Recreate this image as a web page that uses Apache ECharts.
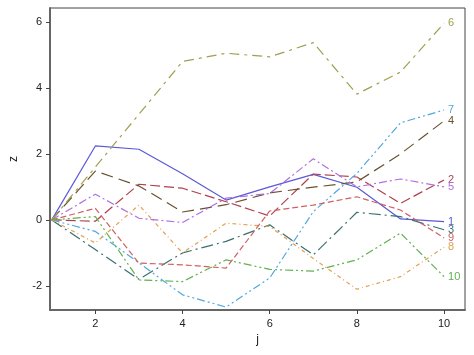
<!DOCTYPE html>
<html><head><meta charset="utf-8">
<script src="https://cdn.jsdelivr.net/npm/echarts@6/dist/echarts.min.js"></script>
<style>html,body{margin:0;padding:0;background:#fff}#c{width:474px;height:355px}</style>
</head><body><div id="c"></div>
<script>
const jValues = [1,2,3,4,5,6,7,8,9,10];
const xTicks = [2,4,6,8,10];
const yTicks = [-2,0,2,4,6];
const seriesNames = ['1','2','3','4','5','6','7','8','9','10'];
const s1  = [0, 2.24, 2.14, 1.4, 0.6, 1.0, 1.38, 0.99, 0.03, -0.05];
const s2  = [0, -0.04, 1.08, 0.96, 0.55, 0.12, 1.39, 1.3, 0.5, 1.21];
const s3  = [0, -0.9, -1.8, -1.0, -0.65, -0.15, -1.06, 0.23, 0.1, -0.3];
const s4  = [0, 1.48, 1.03, 0.24, 0.46, 0.82, 0.99, 1.15, 2.0, 3.0];
const s5  = [0, 0.78, 0.05, -0.08, 0.66, 0.8, 1.85, 1.0, 1.24, 1.0];
const s6  = [0, 1.6, 3.2, 4.8, 5.05, 4.94, 5.37, 3.81, 4.48, 5.96];
const s7  = [0, -0.35, -1.3, -2.27, -2.64, -1.76, 0.25, 1.41, 2.94, 3.33];
const s8  = [0, -0.7, 0.45, -1.0, -0.1, -0.2, -1.17, -2.1, -1.72, -0.83];
const s9  = [0, 0.35, -1.31, -1.36, -1.46, 0.27, 0.45, 0.7, 0.3, -0.55];
const s10 = [0, 0.1, -1.82, -1.87, -1.21, -1.5, -1.55, -1.21, -0.4, -1.72];
const allSeries = [s1,s2,s3,s4,s5,s6,s7,s8,s9,s10];

const colors = ['#5a5ad8','#b04050','#3a7070','#6a5030','#b070e0','#a0a050','#50a8e0','#e0a050','#d06060','#60b050'];
const dashes = [
  'solid',
  [10,4],
  [12,4,2,4],
  [12,6],
  [8,3,2,3],
  [10,5,3,5],
  [8,3,2,3,2,3],
  [4,3,1,3],
  [6,3],
  [8,3,2,3,2,3]
];

const chart = echarts.init(document.getElementById('c'));
chart.setOption({
  animation: false,
  grid: {left: 46, top: 8, right: 9, bottom: 45, show: true, borderColor: '#444', borderWidth: 1},
  xAxis: {
    type: 'value', min: 0.96, max: 10.48,
    name: 'j', nameLocation: 'middle', nameGap: 22,
    nameTextStyle: {fontFamily: 'Liberation Sans', fontSize: 12, color: '#222'},
    axisLine: {show: true, onZero: false, lineStyle: {color: '#666', width: 2}},
    axisTick: {show: true, length: 4, customValues: xTicks, lineStyle: {color: '#444'}},
    axisLabel: {customValues: xTicks, fontFamily: 'Liberation Sans', fontSize: 11, color: '#222', margin: 8},
    splitLine: {show: false}
  },
  yAxis: {
    type: 'value', min: -2.73, max: 6.42,
    name: 'z', nameLocation: 'middle', nameGap: 30,
    nameTextStyle: {fontFamily: 'Liberation Sans', fontSize: 12, color: '#222'},
    axisLine: {show: true, onZero: false, lineStyle: {color: '#666', width: 2}},
    axisTick: {show: true, length: 4, customValues: yTicks, lineStyle: {color: '#444'}},
    axisLabel: {customValues: yTicks, fontFamily: 'Liberation Sans', fontSize: 11, color: '#222', margin: 8},
    splitLine: {show: false}
  },
  series: allSeries.map((vals, i) => ({
    name: seriesNames[i],
    type: 'line',
    symbol: 'none',
    data: vals.map((v, k) => [jValues[k], v]),
    lineStyle: {color: colors[i], width: 1.2, type: dashes[i]},
    itemStyle: {color: colors[i]},
    endLabel: {show: true, formatter: seriesNames[i], color: colors[i], fontFamily: 'Liberation Sans', fontSize: 11, distance: 4}
  }))
});
</script></body></html>
